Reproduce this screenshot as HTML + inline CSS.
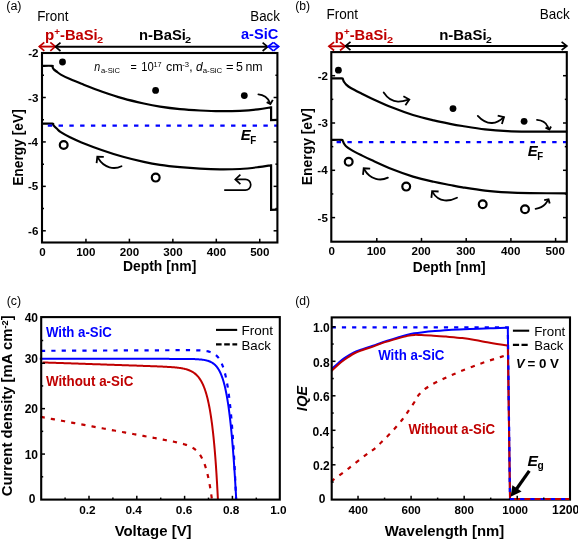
<!DOCTYPE html>
<html><head><meta charset="utf-8"><style>
html,body{margin:0;padding:0;background:#fff;width:578px;height:539px;overflow:hidden}
svg{display:block;filter:blur(0.35px)}
text{font-family:"Liberation Sans",sans-serif}
</style></head><body>
<svg width="578" height="539" viewBox="0 0 578 539" font-family='"Liberation Sans", sans-serif'>
<rect width="578" height="539" fill="#fff"/>
<path d="M42 65.8 C43.65 65.8 50.15 65.7 51.9 65.8 C53.65 65.9 52.33 66.03 52.5 66.4 C52.67 66.77 52.68 67.5 52.9 68 C53.12 68.5 53.2 68.82 53.8 69.4 C54.4 69.98 55.33 70.63 56.5 71.5 C57.67 72.37 58.55 73.33 60.8 74.6 C63.05 75.87 66.55 77.57 70 79.1 C73.45 80.63 76.12 81.7 81.5 83.8 C86.88 85.9 95.38 89.27 102.3 91.7 C109.22 94.13 116.08 96.43 123 98.4 C129.92 100.37 137.63 102.13 143.8 103.5 C149.97 104.87 153.97 105.67 160 106.6 C166.03 107.53 173.33 108.45 180 109.1 C186.67 109.75 193.33 110.15 200 110.5 C206.67 110.85 213.33 111.15 220 111.2 C226.67 111.25 233.67 111.12 240 110.8 C246.33 110.48 252.9 109.87 258 109.3 C263.1 108.73 268.5 107.72 270.6 107.4 L271.1 107.4 L271.1 120.2 L277.4 119.9" stroke="#000" stroke-width="2.2" fill="none" stroke-linecap="butt" stroke-linejoin="miter"/>
<path d="M42 123.6 C43.72 123.6 50.47 123.45 52.3 123.6 C54.13 123.75 52.67 124.07 53 124.5 C53.33 124.93 53.63 125.48 54.3 126.2 C54.97 126.92 55.92 127.8 57 128.8 C58.08 129.8 58.63 130.78 60.8 132.2 C62.97 133.62 66.55 135.6 70 137.3 C73.45 139 76.12 140.25 81.5 142.4 C86.88 144.55 95.38 147.8 102.3 150.2 C109.22 152.6 116.08 154.85 123 156.8 C129.92 158.75 137.63 160.55 143.8 161.9 C149.97 163.25 153.97 164.02 160 164.9 C166.03 165.78 173.33 166.57 180 167.2 C186.67 167.83 193.33 168.33 200 168.7 C206.67 169.07 213.33 169.35 220 169.4 C226.67 169.45 233.67 169.37 240 169 C246.33 168.63 252.9 167.82 258 167.2 C263.1 166.58 268.5 165.62 270.6 165.3 L271.1 165.3 L271.1 209.8 L277.4 209.6" stroke="#000" stroke-width="2.2" fill="none" stroke-linecap="butt" stroke-linejoin="miter"/>
<line x1="47.8" y1="125.6" x2="277.3" y2="125.6" stroke="#0000ff" stroke-width="2.3" stroke-linecap="butt" stroke-dasharray="4.4 6.38"/>
<rect x="42" y="53" width="235.4" height="189.5" fill="none" stroke="#000" stroke-width="2.1"/>
<line x1="42" y1="53.07" x2="45.8" y2="53.07" stroke="#000" stroke-width="1.5" stroke-linecap="butt"/>
<line x1="277.4" y1="53.07" x2="273.6" y2="53.07" stroke="#000" stroke-width="1.5" stroke-linecap="butt"/>
<line x1="42" y1="97.5" x2="45.8" y2="97.5" stroke="#000" stroke-width="1.5" stroke-linecap="butt"/>
<line x1="277.4" y1="97.5" x2="273.6" y2="97.5" stroke="#000" stroke-width="1.5" stroke-linecap="butt"/>
<line x1="42" y1="141.93" x2="45.8" y2="141.93" stroke="#000" stroke-width="1.5" stroke-linecap="butt"/>
<line x1="277.4" y1="141.93" x2="273.6" y2="141.93" stroke="#000" stroke-width="1.5" stroke-linecap="butt"/>
<line x1="42" y1="186.36" x2="45.8" y2="186.36" stroke="#000" stroke-width="1.5" stroke-linecap="butt"/>
<line x1="277.4" y1="186.36" x2="273.6" y2="186.36" stroke="#000" stroke-width="1.5" stroke-linecap="butt"/>
<line x1="42" y1="230.79" x2="45.8" y2="230.79" stroke="#000" stroke-width="1.5" stroke-linecap="butt"/>
<line x1="277.4" y1="230.79" x2="273.6" y2="230.79" stroke="#000" stroke-width="1.5" stroke-linecap="butt"/>
<line x1="42" y1="75.28" x2="44" y2="75.28" stroke="#000" stroke-width="1.5" stroke-linecap="butt"/>
<line x1="277.4" y1="75.28" x2="275.4" y2="75.28" stroke="#000" stroke-width="1.5" stroke-linecap="butt"/>
<line x1="42" y1="119.72" x2="44" y2="119.72" stroke="#000" stroke-width="1.5" stroke-linecap="butt"/>
<line x1="277.4" y1="119.72" x2="275.4" y2="119.72" stroke="#000" stroke-width="1.5" stroke-linecap="butt"/>
<line x1="42" y1="164.15" x2="44" y2="164.15" stroke="#000" stroke-width="1.5" stroke-linecap="butt"/>
<line x1="277.4" y1="164.15" x2="275.4" y2="164.15" stroke="#000" stroke-width="1.5" stroke-linecap="butt"/>
<line x1="42" y1="208.57" x2="44" y2="208.57" stroke="#000" stroke-width="1.5" stroke-linecap="butt"/>
<line x1="277.4" y1="208.57" x2="275.4" y2="208.57" stroke="#000" stroke-width="1.5" stroke-linecap="butt"/>
<line x1="85.95" y1="242.5" x2="85.95" y2="238.7" stroke="#000" stroke-width="1.5" stroke-linecap="butt"/>
<line x1="129.4" y1="242.5" x2="129.4" y2="238.7" stroke="#000" stroke-width="1.5" stroke-linecap="butt"/>
<line x1="172.85" y1="242.5" x2="172.85" y2="238.7" stroke="#000" stroke-width="1.5" stroke-linecap="butt"/>
<line x1="216.3" y1="242.5" x2="216.3" y2="238.7" stroke="#000" stroke-width="1.5" stroke-linecap="butt"/>
<line x1="259.75" y1="242.5" x2="259.75" y2="238.7" stroke="#000" stroke-width="1.5" stroke-linecap="butt"/>
<text x="28.14" y="57.07" font-size="11.6" font-weight="bold" font-style="normal" fill="#000">-2</text>
<text x="28.08" y="101.5" font-size="11.6" font-weight="bold" font-style="normal" fill="#000">-3</text>
<text x="27.73" y="145.93" font-size="11.6" font-weight="bold" font-style="normal" fill="#000">-4</text>
<text x="27.97" y="190.36" font-size="11.6" font-weight="bold" font-style="normal" fill="#000">-5</text>
<text x="28.08" y="234.79" font-size="11.6" font-weight="bold" font-style="normal" fill="#000">-6</text>
<text x="39.28" y="256.1" font-size="11.6" font-weight="bold" font-style="normal" fill="#000">0</text>
<text x="76.18" y="256.1" font-size="11.6" font-weight="bold" font-style="normal" fill="#000">100</text>
<text x="119.77" y="256.1" font-size="11.6" font-weight="bold" font-style="normal" fill="#000">200</text>
<text x="163.28" y="256.1" font-size="11.6" font-weight="bold" font-style="normal" fill="#000">300</text>
<text x="206.79" y="256.1" font-size="11.6" font-weight="bold" font-style="normal" fill="#000">400</text>
<text x="250.15" y="256.1" font-size="11.6" font-weight="bold" font-style="normal" fill="#000">500</text>
<text x="122.99" y="271.2" font-size="13.9" font-weight="bold" font-style="normal" fill="#000">Depth [nm]</text>
<text transform="rotate(-90 0 0)" x="-185.85" y="23.2" font-size="13.8" font-weight="bold" font-style="normal" fill="#000">Energy [eV]</text>
<text x="6.25" y="10.2" font-size="12.5" font-weight="normal" font-style="normal" fill="#000">(a)</text>
<text transform="translate(37.13 20.9) scale(0.938 1)" font-size="14.3" font-weight="normal" font-style="normal" fill="#000">Front</text>
<text transform="translate(250.33 20.9) scale(0.932 1)" font-size="14.3" font-weight="normal" font-style="normal" fill="#000">Back</text>
<text transform="translate(44.92 40) scale(1.031 1)" font-size="14.6" font-weight="bold" font-style="normal" fill="#c00000">p</text>
<text transform="translate(54.3 35.3) scale(1.100 1)" font-size="9" font-weight="bold" font-style="normal" fill="#c00000">+</text>
<text transform="translate(60.01 40) scale(1.009 1)" font-size="14.6" font-weight="bold" font-style="normal" fill="#c00000">-BaSi</text>
<text transform="translate(97.11 43) scale(1.162 1)" font-size="9.5" font-weight="bold" font-style="normal" fill="#c00000">2</text>
<text transform="translate(139.04 39.6) scale(1.013 1)" font-size="14.6" font-weight="bold" font-style="normal" fill="#000">n-BaSi</text>
<text transform="translate(185.11 42.5) scale(1.162 1)" font-size="9.5" font-weight="bold" font-style="normal" fill="#000">2</text>
<text x="240.96" y="38.6" font-size="14.6" font-weight="bold" font-style="normal" fill="#0000ff">a-SiC</text>
<line x1="39.3" y1="46.6" x2="55.3" y2="46.6" stroke="#c00000" stroke-width="1.9" stroke-linecap="butt"/>
<path d="M44.3 42.4 L39.3 46.6 L44.3 50.8" stroke="#c00000" stroke-width="1.7" fill="none" stroke-linecap="butt" stroke-linejoin="miter"/>
<path d="M50.3 42.4 L55.3 46.6 L50.3 50.8" stroke="#c00000" stroke-width="1.7" fill="none" stroke-linecap="butt" stroke-linejoin="miter"/>
<line x1="55.5" y1="46.8" x2="267.4" y2="46.8" stroke="#000" stroke-width="2" stroke-linecap="butt"/>
<path d="M60.5 42.6 L55.5 46.8 L60.5 51" stroke="#000" stroke-width="1.7" fill="none" stroke-linecap="butt" stroke-linejoin="miter"/>
<path d="M262.6 42.6 L267.6 46.8 L262.6 51" stroke="#000" stroke-width="1.7" fill="none" stroke-linecap="butt" stroke-linejoin="miter"/>
<line x1="268.2" y1="46.6" x2="278.7" y2="46.6" stroke="#0000ff" stroke-width="1.9" stroke-linecap="butt"/>
<path d="M273.4 42.4 L268.2 46.6 L273.4 50.8" stroke="#0000ff" stroke-width="1.7" fill="none" stroke-linecap="butt" stroke-linejoin="miter"/>
<path d="M273.5 42.4 L278.7 46.6 L273.5 50.8" stroke="#0000ff" stroke-width="1.7" fill="none" stroke-linecap="butt" stroke-linejoin="miter"/>
<text transform="translate(94.24 70.6) scale(0.892 1)" font-size="12" font-weight="normal" font-style="italic" fill="#000">n</text>
<text x="100.9" y="73.1" font-size="7.6" font-weight="normal" font-style="normal" fill="#000">a-SiC</text>
<text transform="translate(130.46 70.6) scale(0.893 1)" font-size="12" font-weight="normal" font-style="normal" fill="#000">=</text>
<text transform="translate(141.26 70.6) scale(0.933 1)" font-size="12" font-weight="normal" font-style="normal" fill="#000">10</text>
<text transform="translate(153.44 66.6) scale(1.029 1)" font-size="7.2" font-weight="normal" font-style="normal" fill="#000">17</text>
<text transform="translate(166 70.6) scale(1.050 1)" font-size="12" font-weight="normal" font-style="normal" fill="#000">cm</text>
<text transform="translate(182.25 66.6) scale(1.070 1)" font-size="7.2" font-weight="normal" font-style="normal" fill="#000">-3</text>
<text x="189.22" y="70.6" font-size="12" font-weight="normal" font-style="normal" fill="#000">,</text>
<text x="195.98" y="70.6" font-size="12" font-weight="normal" font-style="italic" fill="#000">d</text>
<text transform="translate(202.69 73.2) scale(1.031 1)" font-size="7.6" font-weight="normal" font-style="normal" fill="#000">a-SiC</text>
<text transform="translate(226.05 70.6) scale(1.082 1)" font-size="12" font-weight="normal" font-style="normal" fill="#000">=</text>
<text transform="translate(235.9 70.6) scale(1.035 1)" font-size="12" font-weight="normal" font-style="normal" fill="#000">5</text>
<text transform="translate(245.4 70.6) scale(1.032 1)" font-size="12" font-weight="normal" font-style="normal" fill="#000">nm</text>
<text transform="translate(240.8 140.1) scale(0.963 1)" font-size="15.5" font-weight="bold" font-style="italic" fill="#000">E</text>
<text transform="translate(250.26 143.5) scale(0.934 1)" font-size="10.5" font-weight="bold" font-style="normal" fill="#000">F</text>
<circle cx="62.5" cy="62" r="3.4" fill="#000"/>
<circle cx="155.6" cy="90.4" r="3.4" fill="#000"/>
<circle cx="244.3" cy="95.6" r="3.4" fill="#000"/>
<circle cx="63.7" cy="145" r="3.9" fill="none" stroke="#000" stroke-width="2.2"/>
<circle cx="155.7" cy="177.6" r="3.9" fill="none" stroke="#000" stroke-width="2.2"/>
<path d="M121.5 166.2 C114.5 169.7 104.3 168.6 97.9 157.8" stroke="#000" stroke-width="1.8" fill="none" stroke-linecap="round" stroke-linejoin="miter"/>
<path d="M103.8 156.9 L97.3 156.6 L96.6 163.2" stroke="#000" stroke-width="1.8" fill="none" stroke-linecap="butt" stroke-linejoin="miter"/>
<path d="M258.4 94.3 C263 94.5 268.5 97.5 270.2 103.4" stroke="#000" stroke-width="1.8" fill="none" stroke-linecap="round" stroke-linejoin="miter"/>
<path d="M266.7 102.2 L270.4 104.1 L272.8 99.9" stroke="#000" stroke-width="1.9" fill="none" stroke-linecap="butt" stroke-linejoin="miter"/>
<path d="M224.2 190.1 L245.4 190.1 A5.35 5.35 0 0 0 245.4 179.4 L235.6 179.4" stroke="#000" stroke-width="1.7" fill="none" stroke-linecap="butt" stroke-linejoin="miter"/>
<path d="M240.4 174.6 L235.3 179.4 L240.4 184.2" stroke="#000" stroke-width="1.7" fill="none" stroke-linecap="butt" stroke-linejoin="miter"/>
<path d="M331.6 78.4 C333.27 78.4 339.73 78.27 341.6 78.4 C343.47 78.53 342.4 78.63 342.8 79.2 C343.2 79.77 343.43 80.9 344 81.8 C344.57 82.7 345.07 83.57 346.2 84.6 C347.33 85.63 348.33 86.55 350.8 88 C353.27 89.45 357.55 91.57 361 93.3 C364.45 95.03 366.28 96.02 371.5 98.4 C376.72 100.78 385.38 104.83 392.3 107.6 C399.22 110.37 406.08 112.87 413 115 C419.92 117.13 427.63 118.93 433.8 120.4 C439.97 121.87 445.22 122.87 450 123.8 C454.78 124.73 456.67 125.08 462.5 126 C468.33 126.92 477.5 128.45 485 129.3 C492.5 130.15 500 130.72 507.5 131.1 C515 131.48 520.07 131.5 530 131.6 C539.93 131.7 560.92 131.68 567.1 131.7" stroke="#000" stroke-width="2.2" fill="none" stroke-linecap="butt" stroke-linejoin="miter"/>
<path d="M331.6 139.8 C333.23 139.8 339.57 139.67 341.4 139.8 C343.23 139.93 342.2 140.03 342.6 140.6 C343 141.17 343.23 142.27 343.8 143.2 C344.37 144.13 344.83 145.13 346 146.2 C347.17 147.27 348.3 148.13 350.8 149.6 C353.3 151.07 357.55 153.25 361 155 C364.45 156.75 366.28 157.72 371.5 160.1 C376.72 162.48 385.38 166.55 392.3 169.3 C399.22 172.05 406.08 174.52 413 176.6 C419.92 178.68 427.63 180.4 433.8 181.8 C439.97 183.2 445.22 184.08 450 185 C454.78 185.92 456.67 186.37 462.5 187.3 C468.33 188.23 477.5 189.75 485 190.6 C492.5 191.45 500 191.98 507.5 192.4 C515 192.82 520.07 192.95 530 193.1 C539.93 193.25 560.92 193.27 567.1 193.3" stroke="#000" stroke-width="2.2" fill="none" stroke-linecap="butt" stroke-linejoin="miter"/>
<line x1="336.6" y1="142.2" x2="566.8" y2="142.2" stroke="#0000ff" stroke-width="2.3" stroke-linecap="butt" stroke-dasharray="4.4 6.38"/>
<rect x="331.3" y="52.1" width="235.5" height="189.6" fill="none" stroke="#000" stroke-width="2.1"/>
<line x1="331.3" y1="75.7" x2="335.1" y2="75.7" stroke="#000" stroke-width="1.5" stroke-linecap="butt"/>
<line x1="566.8" y1="75.7" x2="563" y2="75.7" stroke="#000" stroke-width="1.5" stroke-linecap="butt"/>
<line x1="331.3" y1="123" x2="335.1" y2="123" stroke="#000" stroke-width="1.5" stroke-linecap="butt"/>
<line x1="566.8" y1="123" x2="563" y2="123" stroke="#000" stroke-width="1.5" stroke-linecap="butt"/>
<line x1="331.3" y1="170.3" x2="335.1" y2="170.3" stroke="#000" stroke-width="1.5" stroke-linecap="butt"/>
<line x1="566.8" y1="170.3" x2="563" y2="170.3" stroke="#000" stroke-width="1.5" stroke-linecap="butt"/>
<line x1="331.3" y1="217.6" x2="335.1" y2="217.6" stroke="#000" stroke-width="1.5" stroke-linecap="butt"/>
<line x1="566.8" y1="217.6" x2="563" y2="217.6" stroke="#000" stroke-width="1.5" stroke-linecap="butt"/>
<line x1="331.3" y1="99.35" x2="333.3" y2="99.35" stroke="#000" stroke-width="1.5" stroke-linecap="butt"/>
<line x1="566.8" y1="99.35" x2="564.8" y2="99.35" stroke="#000" stroke-width="1.5" stroke-linecap="butt"/>
<line x1="331.3" y1="146.65" x2="333.3" y2="146.65" stroke="#000" stroke-width="1.5" stroke-linecap="butt"/>
<line x1="566.8" y1="146.65" x2="564.8" y2="146.65" stroke="#000" stroke-width="1.5" stroke-linecap="butt"/>
<line x1="331.3" y1="193.95" x2="333.3" y2="193.95" stroke="#000" stroke-width="1.5" stroke-linecap="butt"/>
<line x1="566.8" y1="193.95" x2="564.8" y2="193.95" stroke="#000" stroke-width="1.5" stroke-linecap="butt"/>
<line x1="376.8" y1="241.7" x2="376.8" y2="237.9" stroke="#000" stroke-width="1.5" stroke-linecap="butt"/>
<line x1="421.5" y1="241.7" x2="421.5" y2="237.9" stroke="#000" stroke-width="1.5" stroke-linecap="butt"/>
<line x1="466.2" y1="241.7" x2="466.2" y2="237.9" stroke="#000" stroke-width="1.5" stroke-linecap="butt"/>
<line x1="510.9" y1="241.7" x2="510.9" y2="237.9" stroke="#000" stroke-width="1.5" stroke-linecap="butt"/>
<line x1="555.6" y1="241.7" x2="555.6" y2="237.9" stroke="#000" stroke-width="1.5" stroke-linecap="butt"/>
<text x="317.74" y="79.7" font-size="11.6" font-weight="bold" font-style="normal" fill="#000">-2</text>
<text x="317.68" y="127" font-size="11.6" font-weight="bold" font-style="normal" fill="#000">-3</text>
<text x="317.33" y="174.3" font-size="11.6" font-weight="bold" font-style="normal" fill="#000">-4</text>
<text x="317.57" y="221.6" font-size="11.6" font-weight="bold" font-style="normal" fill="#000">-5</text>
<text x="328.48" y="254.9" font-size="11.6" font-weight="bold" font-style="normal" fill="#000">0</text>
<text x="366.63" y="254.9" font-size="11.6" font-weight="bold" font-style="normal" fill="#000">100</text>
<text x="411.47" y="254.9" font-size="11.6" font-weight="bold" font-style="normal" fill="#000">200</text>
<text x="456.23" y="254.9" font-size="11.6" font-weight="bold" font-style="normal" fill="#000">300</text>
<text x="500.99" y="254.9" font-size="11.6" font-weight="bold" font-style="normal" fill="#000">400</text>
<text x="545.6" y="254.9" font-size="11.6" font-weight="bold" font-style="normal" fill="#000">500</text>
<text transform="translate(412.7 272.4) scale(0.994 1)" font-size="13.9" font-weight="bold" font-style="normal" fill="#000">Depth [nm]</text>
<text transform="rotate(-90 0 0) translate(-185.15 312.3) scale(1.007 1)" font-size="13.8" font-weight="bold" font-style="normal" fill="#000">Energy [eV]</text>
<text transform="translate(295.27 10.2) scale(0.975 1)" font-size="12.5" font-weight="normal" font-style="normal" fill="#000">(b)</text>
<text transform="translate(326.42 18.9) scale(0.947 1)" font-size="14.3" font-weight="normal" font-style="normal" fill="#000">Front</text>
<text transform="translate(539.72 18.9) scale(0.942 1)" font-size="14.3" font-weight="normal" font-style="normal" fill="#000">Back</text>
<text x="334.75" y="39.7" font-size="14.6" font-weight="bold" font-style="normal" fill="#c00000">p</text>
<text transform="translate(343.91 34.8) scale(1.078 1)" font-size="9" font-weight="bold" font-style="normal" fill="#c00000">+</text>
<text transform="translate(349.71 39.7) scale(1.009 1)" font-size="14.6" font-weight="bold" font-style="normal" fill="#c00000">-BaSi</text>
<text transform="translate(387.01 42.8) scale(1.162 1)" font-size="9.5" font-weight="bold" font-style="normal" fill="#c00000">2</text>
<text transform="translate(439.13 40.4) scale(1.027 1)" font-size="14.6" font-weight="bold" font-style="normal" fill="#000">n-BaSi</text>
<text transform="translate(486.04 43.4) scale(1.096 1)" font-size="9.5" font-weight="bold" font-style="normal" fill="#000">2</text>
<line x1="328.9" y1="46.3" x2="345.2" y2="46.3" stroke="#c00000" stroke-width="1.9" stroke-linecap="butt"/>
<path d="M334.1 42.1 L328.9 46.3 L334.1 50.5" stroke="#c00000" stroke-width="1.7" fill="none" stroke-linecap="butt" stroke-linejoin="miter"/>
<path d="M340 42.1 L345.2 46.3 L340 50.5" stroke="#c00000" stroke-width="1.7" fill="none" stroke-linecap="butt" stroke-linejoin="miter"/>
<line x1="345.5" y1="46" x2="566.6" y2="46" stroke="#000" stroke-width="2" stroke-linecap="butt"/>
<path d="M350.5 41.8 L345.5 46 L350.5 50.2" stroke="#000" stroke-width="1.7" fill="none" stroke-linecap="butt" stroke-linejoin="miter"/>
<path d="M561.6 41.8 L566.9 46 L561.6 50.2" stroke="#000" stroke-width="1.7" fill="none" stroke-linecap="butt" stroke-linejoin="miter"/>
<text transform="translate(527.7 156.1) scale(0.963 1)" font-size="15.5" font-weight="bold" font-style="italic" fill="#000">E</text>
<text transform="translate(537.28 159.5) scale(0.915 1)" font-size="10.5" font-weight="bold" font-style="normal" fill="#000">F</text>
<circle cx="338.4" cy="70.2" r="3.4" fill="#000"/>
<circle cx="453" cy="108.6" r="3.4" fill="#000"/>
<circle cx="524.1" cy="121.3" r="3.4" fill="#000"/>
<circle cx="348.7" cy="161.8" r="3.9" fill="none" stroke="#000" stroke-width="2.2"/>
<circle cx="406.2" cy="186.6" r="3.9" fill="none" stroke="#000" stroke-width="2.2"/>
<circle cx="482.7" cy="204.2" r="3.9" fill="none" stroke="#000" stroke-width="2.2"/>
<circle cx="525" cy="209.3" r="3.9" fill="none" stroke="#000" stroke-width="2.2"/>
<path d="M387.9 177.6 C380.9 181.1 370.7 180.3 364.3 169.5" stroke="#000" stroke-width="1.8" fill="none" stroke-linecap="round" stroke-linejoin="miter"/>
<path d="M370.2 168.6 L363.7 168.3 L363 174.9" stroke="#000" stroke-width="1.8" fill="none" stroke-linecap="butt" stroke-linejoin="miter"/>
<path d="M457 197.7 C450 201.2 439.1 203.2 432.7 192.4" stroke="#000" stroke-width="1.8" fill="none" stroke-linecap="round" stroke-linejoin="miter"/>
<path d="M438.6 191.5 L432.1 191.2 L431.4 197.8" stroke="#000" stroke-width="1.8" fill="none" stroke-linecap="butt" stroke-linejoin="miter"/>
<path d="M383.7 92.5 C387 97.5 392 101.5 398 101.6 C402 101.7 405.5 100.6 408.6 99.6" stroke="#000" stroke-width="1.8" fill="none" stroke-linecap="round" stroke-linejoin="miter"/>
<path d="M403.4 96.2 L409.3 99.5 L405.4 105.2" stroke="#000" stroke-width="1.8" fill="none" stroke-linecap="butt" stroke-linejoin="miter"/>
<path d="M477.8 115.9 C482 120.5 487 123.2 492 123.0 C496.5 122.8 500.5 120.5 503.5 117.4" stroke="#000" stroke-width="1.8" fill="none" stroke-linecap="round" stroke-linejoin="miter"/>
<path d="M497.7 115.6 L504 117.1 L501.9 124.1" stroke="#000" stroke-width="1.8" fill="none" stroke-linecap="butt" stroke-linejoin="miter"/>
<path d="M537.0 119.9 C541 120.2 545.5 122.0 547.3 126.0 L548.9 129.0" stroke="#000" stroke-width="1.8" fill="none" stroke-linecap="round" stroke-linejoin="miter"/>
<path d="M545.5 127.7 L549.4 129.6 L551 126.5" stroke="#000" stroke-width="1.9" fill="none" stroke-linecap="butt" stroke-linejoin="miter"/>
<path d="M535.6 208.8 C539.5 208.3 543 206.8 545.2 204.2 L548.2 199.9" stroke="#000" stroke-width="1.8" fill="none" stroke-linecap="round" stroke-linejoin="miter"/>
<path d="M544.2 200.1 L548.5 199.3 L549.7 203.6" stroke="#000" stroke-width="1.9" fill="none" stroke-linecap="butt" stroke-linejoin="miter"/>
<path d="M40.63 416.84 L42.18 417.13 L43.73 417.41 L45.26 417.7 L46.79 417.98 L48.32 418.27 L49.83 418.55 L51.34 418.83 L52.84 419.11 L54.33 419.38 L55.82 419.66 L57.3 419.93 L58.77 420.21 L60.24 420.48 L61.7 420.75 L63.15 421.02 L64.59 421.29 L66.03 421.56 L67.46 421.82 L68.89 422.09 L70.3 422.35 L71.71 422.61 L73.11 422.87 L74.51 423.13 L75.9 423.39 L77.28 423.65 L78.65 423.9 L80.02 424.16 L81.38 424.41 L82.73 424.66 L84.08 424.91 L85.42 425.16 L86.75 425.41 L88.07 425.65 L89.39 425.9 L90.7 426.14 L92 426.38 L93.3 426.62 L94.59 426.86 L95.87 427.1 L97.15 427.34 L98.41 427.57 L99.67 427.81 L100.93 428.04 L102.17 428.27 L103.41 428.5 L104.65 428.73 L105.87 428.96 L107.09 429.19 L108.3 429.41 L109.51 429.64 L110.7 429.86 L111.89 430.08 L113.08 430.3 L114.25 430.52 L115.42 430.74 L116.59 430.95 L117.74 431.17 L118.89 431.38 L120.03 431.59 L121.16 431.8 L122.29 432.01 L123.41 432.22 L124.52 432.43 L125.63 432.63 L126.73 432.84 L127.82 433.04 L128.9 433.24 L129.98 433.44 L131.05 433.64 L132.11 433.84 L133.17 434.03 L134.22 434.23 L135.26 434.42 L136.29 434.61 L137.32 434.81 L138.34 435 L139.36 435.18 L140.36 435.37 L141.36 435.56 L142.35 435.74 L143.34 435.92 L144.32 436.11 L145.29 436.29 L146.25 436.47 L147.21 436.64 L148.16 436.82 L149.1 437 L150.04 437.17 L150.97 437.35 L151.89 437.52 L152.81 437.69 L153.71 437.86 L154.61 438.03 L155.51 438.19 L156.39 438.36 L157.27 438.52 L158.15 438.69 L159.01 438.85 L159.87 439.01 L160.72 439.17 L161.56 439.33 L162.4 439.49 L163.23 439.65 L164.06 439.8 L164.87 439.96 L165.68 440.12 L166.48 440.27 L167.28 440.42 L168.06 440.58 L168.84 440.73 L169.62 440.88 L170.38 441.03 L171.14 441.19 L171.9 441.34 L172.64 441.49 L173.38 441.64 L174.11 441.79 L174.84 441.95 L175.55 442.1 L176.26 442.25 L176.97 442.41 L177.66 442.57 L178.35 442.72 L179.03 442.88 L179.71 443.04 L180.38 443.21 L181.04 443.37 L181.69 443.54 L182.34 443.72 L182.98 443.89 L183.61 444.07 L184.23 444.26 L184.85 444.44 L185.46 444.64 L186.07 444.84 L186.67 445.04 L187.26 445.26 L187.84 445.47 L188.42 445.7 L188.99 445.94 L189.55 446.18 L190.1 446.43 L190.65 446.7 L191.2 446.97 L191.73 447.25 L192.26 447.55 L192.78 447.86 L193.29 448.18 L193.8 448.52 L194.3 448.87 L194.79 449.24 L195.28 449.62 L195.76 450.02 L196.23 450.44 L196.69 450.87 L197.15 451.32 L197.6 451.8 L198.05 452.29 L198.48 452.8 L198.91 453.34 L199.34 453.89 L199.75 454.47 L200.16 455.07 L200.57 455.69 L200.96 456.34 L201.35 457.01 L201.73 457.7 L202.11 458.41 L202.48 459.15 L202.84 459.92 L203.19 460.7 L203.54 461.51 L203.88 462.35 L204.22 463.2 L204.54 464.08 L204.86 464.97 L205.18 465.89 L205.48 466.83 L205.78 467.78 L206.08 468.75 L206.36 469.74 L206.64 470.75 L206.91 471.76 L207.18 472.79 L207.43 473.83 L207.68 474.88 L207.93 475.93 L208.16 476.99 L208.39 478.05 L208.62 479.11 L208.83 480.17 L209.04 481.23 L209.24 482.28 L209.43 483.32 L209.62 484.34 L209.8 485.36 L209.97 486.36 L210.14 487.34 L210.3 488.3 L210.45 489.23 L210.59 490.14 L210.73 491.02 L210.86 491.86 L210.98 492.68 L211.09 493.45 L211.2 494.19 L211.3 494.89 L211.39 495.55 L211.48 496.16 L211.56 496.72 L211.63 497.24 L211.69 497.71 L211.75 498.12 L211.8 498.48 L211.84 498.79 L211.87 499.05 L211.9 499.24 L211.91 499.39 L211.93 499.47 L211.93 499.5" stroke="#c00000" stroke-width="2.2" fill="none" stroke-linecap="butt" stroke-linejoin="miter" stroke-dasharray="4.2 6.15"/>
<path d="M42.67 362.41 L44.27 362.46 L45.87 362.52 L47.46 362.57 L49.04 362.63 L50.61 362.68 L52.18 362.73 L53.73 362.79 L55.29 362.84 L56.83 362.89 L58.37 362.95 L59.89 363 L61.42 363.05 L62.93 363.1 L64.44 363.16 L65.94 363.21 L67.43 363.26 L68.92 363.31 L70.39 363.36 L71.87 363.41 L73.33 363.46 L74.78 363.51 L76.23 363.56 L77.68 363.61 L79.11 363.66 L80.54 363.71 L81.96 363.76 L83.37 363.81 L84.77 363.85 L86.17 363.9 L87.56 363.95 L88.95 364 L90.32 364.04 L91.69 364.09 L93.05 364.14 L94.4 364.18 L95.75 364.23 L97.09 364.28 L98.42 364.32 L99.75 364.37 L101.07 364.41 L102.38 364.46 L103.68 364.5 L104.97 364.55 L106.26 364.59 L107.54 364.64 L108.82 364.68 L110.08 364.72 L111.34 364.77 L112.59 364.81 L113.84 364.85 L115.08 364.89 L116.31 364.94 L117.53 364.98 L118.74 365.02 L119.95 365.06 L121.15 365.1 L122.35 365.14 L123.53 365.19 L124.71 365.23 L125.88 365.27 L127.05 365.31 L128.2 365.35 L129.35 365.39 L130.5 365.43 L131.63 365.46 L132.76 365.5 L133.88 365.54 L134.99 365.58 L136.1 365.62 L137.2 365.66 L138.29 365.7 L139.37 365.73 L140.45 365.77 L141.52 365.81 L142.58 365.85 L143.63 365.88 L144.68 365.92 L145.72 365.96 L146.75 365.99 L147.78 366.03 L148.8 366.07 L149.81 366.11 L150.81 366.14 L151.81 366.18 L152.8 366.22 L153.78 366.25 L154.75 366.29 L155.72 366.33 L156.68 366.37 L157.63 366.41 L158.58 366.45 L159.52 366.48 L160.45 366.52 L161.37 366.57 L162.29 366.61 L163.19 366.65 L164.1 366.69 L164.99 366.74 L165.88 366.78 L166.76 366.83 L167.63 366.88 L168.49 366.93 L169.35 366.98 L170.2 367.04 L171.04 367.1 L171.88 367.16 L172.71 367.22 L173.53 367.29 L174.34 367.36 L175.15 367.43 L175.94 367.51 L176.74 367.59 L177.52 367.68 L178.3 367.77 L179.07 367.87 L179.83 367.98 L180.58 368.09 L181.33 368.21 L182.07 368.34 L182.8 368.48 L183.53 368.62 L184.24 368.78 L184.95 368.95 L185.66 369.13 L186.35 369.32 L187.04 369.53 L187.72 369.75 L188.39 369.98 L189.06 370.23 L189.72 370.5 L190.37 370.79 L191.01 371.09 L191.65 371.42 L192.27 371.76 L192.89 372.13 L193.51 372.53 L194.11 372.95 L194.71 373.39 L195.3 373.87 L195.88 374.37 L196.46 374.9 L197.02 375.47 L197.58 376.07 L198.13 376.7 L198.68 377.37 L199.22 378.08 L199.74 378.82 L200.27 379.61 L200.78 380.44 L201.28 381.31 L201.78 382.22 L202.27 383.18 L202.75 384.19 L203.23 385.24 L203.69 386.35 L204.15 387.5 L204.6 388.7 L205.05 389.96 L205.48 391.27 L205.91 392.63 L206.33 394.04 L206.74 395.51 L207.14 397.03 L207.54 398.6 L207.93 400.23 L208.31 401.92 L208.68 403.65 L209.04 405.44 L209.4 407.28 L209.75 409.18 L210.09 411.12 L210.42 413.11 L210.74 415.15 L211.06 417.23 L211.37 419.36 L211.67 421.53 L211.97 423.74 L212.25 425.99 L212.53 428.27 L212.8 430.58 L213.07 432.92 L213.32 435.28 L213.57 437.67 L213.81 440.07 L214.04 442.48 L214.27 444.91 L214.49 447.34 L214.7 449.77 L214.9 452.2 L215.1 454.61 L215.29 457.02 L215.47 459.4 L215.65 461.77 L215.82 464.1 L215.98 466.4 L216.13 468.66 L216.28 470.88 L216.42 473.05 L216.55 475.17 L216.68 477.23 L216.8 479.22 L216.92 481.15 L217.03 483 L217.13 484.78 L217.22 486.47 L217.31 488.07 L217.39 489.58 L217.47 491 L217.54 492.32 L217.6 493.54 L217.66 494.65 L217.71 495.65 L217.76 496.54 L217.8 497.32 L217.83 497.98 L217.86 498.53 L217.88 498.95 L217.89 499.26 L217.9 499.44 L217.9 499.5" stroke="#c00000" stroke-width="2" fill="none" stroke-linecap="butt" stroke-linejoin="miter"/>
<path d="M39.83 358.82 L41.6 358.82 L43.36 358.82 L45.11 358.82 L46.86 358.82 L48.59 358.82 L50.32 358.82 L52.04 358.82 L53.76 358.82 L55.46 358.83 L57.16 358.83 L58.84 358.83 L60.53 358.83 L62.2 358.83 L63.86 358.83 L65.52 358.83 L67.17 358.83 L68.81 358.83 L70.44 358.83 L72.06 358.83 L73.68 358.83 L75.28 358.83 L76.88 358.83 L78.48 358.83 L80.06 358.84 L81.63 358.84 L83.2 358.84 L84.76 358.84 L86.31 358.84 L87.86 358.84 L89.39 358.84 L90.92 358.84 L92.44 358.84 L93.95 358.84 L95.45 358.84 L96.95 358.84 L98.43 358.84 L99.91 358.84 L101.38 358.84 L102.85 358.84 L104.3 358.84 L105.75 358.85 L107.18 358.85 L108.62 358.85 L110.04 358.85 L111.45 358.85 L112.86 358.85 L114.26 358.85 L115.65 358.85 L117.03 358.85 L118.4 358.85 L119.77 358.85 L121.13 358.85 L122.48 358.85 L123.82 358.85 L125.15 358.85 L126.48 358.85 L127.8 358.85 L129.1 358.85 L130.41 358.86 L131.7 358.86 L132.98 358.86 L134.26 358.86 L135.53 358.86 L136.79 358.86 L138.05 358.86 L139.29 358.86 L140.53 358.86 L141.76 358.86 L142.98 358.86 L144.19 358.86 L145.4 358.86 L146.59 358.86 L147.78 358.86 L148.96 358.86 L150.13 358.86 L151.3 358.86 L152.45 358.86 L153.6 358.86 L154.74 358.87 L155.88 358.87 L157 358.87 L158.12 358.87 L159.22 358.87 L160.32 358.87 L161.42 358.87 L162.5 358.87 L163.58 358.87 L164.64 358.87 L165.7 358.87 L166.75 358.87 L167.8 358.87 L168.83 358.87 L169.86 358.88 L170.88 358.88 L171.89 358.88 L172.9 358.88 L173.89 358.88 L174.88 358.88 L175.86 358.89 L176.83 358.89 L177.79 358.89 L178.75 358.89 L179.69 358.9 L180.63 358.9 L181.56 358.91 L182.49 358.91 L183.4 358.92 L184.31 358.92 L185.21 358.93 L186.1 358.94 L186.98 358.95 L187.85 358.96 L188.72 358.97 L189.58 358.99 L190.43 359 L191.27 359.02 L192.11 359.04 L192.93 359.06 L193.75 359.09 L194.56 359.12 L195.36 359.15 L196.16 359.19 L196.94 359.23 L197.72 359.27 L198.49 359.32 L199.25 359.38 L200.01 359.44 L200.75 359.52 L201.49 359.59 L202.22 359.68 L202.94 359.78 L203.66 359.88 L204.36 360 L205.06 360.13 L205.75 360.28 L206.44 360.44 L207.11 360.61 L207.78 360.81 L208.44 361.02 L209.09 361.25 L209.73 361.5 L210.36 361.78 L210.99 362.08 L211.61 362.4 L212.22 362.76 L212.83 363.15 L213.42 363.57 L214.01 364.02 L214.59 364.51 L215.17 365.04 L215.73 365.61 L216.29 366.23 L216.84 366.89 L217.38 367.6 L217.92 368.36 L218.45 369.17 L218.97 370.04 L219.48 370.96 L219.98 371.95 L220.48 373 L220.97 374.12 L221.46 375.3 L221.93 376.55 L222.4 377.87 L222.86 379.26 L223.31 380.73 L223.76 382.28 L224.2 383.9 L224.63 385.6 L225.05 387.38 L225.47 389.24 L225.88 391.18 L226.28 393.2 L226.68 395.29 L227.07 397.47 L227.45 399.73 L227.82 402.06 L228.19 404.47 L228.55 406.95 L228.9 409.5 L229.24 412.12 L229.58 414.81 L229.91 417.55 L230.23 420.35 L230.54 423.2 L230.85 426.1 L231.15 429.03 L231.44 432.01 L231.72 435.01 L232 438.03 L232.26 441.07 L232.52 444.12 L232.77 447.16 L233.02 450.2 L233.25 453.23 L233.48 456.22 L233.7 459.19 L233.91 462.11 L234.11 464.99 L234.3 467.8 L234.48 470.55 L234.66 473.22 L234.82 475.8 L234.98 478.29 L235.13 480.68 L235.27 482.96 L235.4 485.11 L235.52 487.15 L235.63 489.04 L235.73 490.8 L235.82 492.41 L235.91 493.87 L235.98 495.17 L236.04 496.3 L236.1 497.27 L236.14 498.07 L236.18 498.69 L236.2 499.14 L236.22 499.41 L236.22 499.5" stroke="#0000ff" stroke-width="2" fill="none" stroke-linecap="butt" stroke-linejoin="miter"/>
<path d="M40.98 350.8 L42.74 350.79 L44.5 350.78 L46.26 350.78 L48 350.77 L49.74 350.76 L51.46 350.75 L53.18 350.75 L54.89 350.74 L56.6 350.73 L58.29 350.72 L59.98 350.72 L61.66 350.71 L63.33 350.7 L64.99 350.7 L66.65 350.69 L68.3 350.68 L69.94 350.67 L71.57 350.67 L73.19 350.66 L74.8 350.65 L76.41 350.65 L78.01 350.64 L79.6 350.63 L81.18 350.62 L82.76 350.62 L84.32 350.61 L85.88 350.6 L87.43 350.6 L88.98 350.59 L90.51 350.58 L92.04 350.58 L93.55 350.57 L95.06 350.56 L96.57 350.56 L98.06 350.55 L99.55 350.54 L101.02 350.54 L102.49 350.53 L103.96 350.52 L105.41 350.52 L106.86 350.51 L108.29 350.51 L109.72 350.5 L111.15 350.49 L112.56 350.49 L113.96 350.48 L115.36 350.48 L116.75 350.47 L118.13 350.46 L119.51 350.46 L120.87 350.45 L122.23 350.45 L123.58 350.44 L124.92 350.43 L126.25 350.43 L127.58 350.42 L128.89 350.42 L130.2 350.41 L131.5 350.4 L132.79 350.4 L134.08 350.39 L135.36 350.39 L136.62 350.38 L137.88 350.38 L139.14 350.37 L140.38 350.37 L141.62 350.36 L142.85 350.35 L144.07 350.35 L145.28 350.34 L146.48 350.34 L147.68 350.33 L148.87 350.33 L150.05 350.32 L151.22 350.32 L152.38 350.31 L153.54 350.31 L154.69 350.3 L155.83 350.3 L156.96 350.29 L158.08 350.29 L159.2 350.28 L160.3 350.28 L161.4 350.27 L162.49 350.27 L163.58 350.27 L164.65 350.26 L165.72 350.26 L166.78 350.25 L167.83 350.25 L168.87 350.24 L169.91 350.24 L170.94 350.23 L171.95 350.23 L172.97 350.23 L173.97 350.22 L174.96 350.22 L175.95 350.22 L176.93 350.21 L177.9 350.21 L178.86 350.21 L179.82 350.2 L180.76 350.2 L181.7 350.2 L182.63 350.2 L183.55 350.2 L184.47 350.2 L185.37 350.2 L186.27 350.2 L187.16 350.2 L188.04 350.2 L188.92 350.21 L189.78 350.21 L190.64 350.22 L191.49 350.22 L192.33 350.23 L193.17 350.24 L193.99 350.25 L194.81 350.27 L195.62 350.29 L196.42 350.31 L197.21 350.33 L198 350.36 L198.78 350.39 L199.54 350.42 L200.31 350.46 L201.06 350.51 L201.8 350.56 L202.54 350.62 L203.27 350.68 L203.99 350.76 L204.7 350.84 L205.41 350.93 L206.11 351.04 L206.79 351.15 L207.48 351.28 L208.15 351.43 L208.81 351.58 L209.47 351.76 L210.12 351.95 L210.76 352.17 L211.39 352.41 L212.02 352.66 L212.63 352.95 L213.24 353.26 L213.84 353.6 L214.43 353.98 L215.02 354.38 L215.6 354.83 L216.16 355.31 L216.72 355.83 L217.28 356.4 L217.82 357.01 L218.36 357.67 L218.89 358.38 L219.41 359.15 L219.92 359.97 L220.42 360.86 L220.92 361.81 L221.41 362.82 L221.89 363.9 L222.36 365.05 L222.83 366.28 L223.29 367.58 L223.73 368.97 L224.18 370.43 L224.61 371.98 L225.03 373.61 L225.45 375.32 L225.86 377.13 L226.26 379.03 L226.66 381.01 L227.04 383.09 L227.42 385.26 L227.79 387.52 L228.15 389.87 L228.51 392.31 L228.85 394.83 L229.19 397.45 L229.52 400.14 L229.84 402.92 L230.16 405.78 L230.46 408.71 L230.76 411.71 L231.05 414.77 L231.34 417.9 L231.61 421.08 L231.88 424.3 L232.13 427.57 L232.39 430.87 L232.63 434.19 L232.86 437.53 L233.09 440.88 L233.31 444.23 L233.52 447.57 L233.72 450.89 L233.91 454.18 L234.1 457.43 L234.28 460.63 L234.45 463.77 L234.61 466.84 L234.76 469.83 L234.91 472.73 L235.05 475.52 L235.17 478.21 L235.3 480.77 L235.41 483.21 L235.51 485.5 L235.61 487.65 L235.7 489.63 L235.77 491.46 L235.85 493.11 L235.91 494.58 L235.96 495.87 L236.01 496.97 L236.05 497.88 L236.08 498.58 L236.1 499.09 L236.11 499.4 L236.11 499.5" stroke="#0000ff" stroke-width="2.2" fill="none" stroke-linecap="butt" stroke-linejoin="miter" stroke-dasharray="4.2 6.15"/>
<rect x="41.2" y="317.1" width="238.6" height="182.5" fill="none" stroke="#000" stroke-width="2.1"/>
<line x1="41.2" y1="454.07" x2="45" y2="454.07" stroke="#000" stroke-width="1.5" stroke-linecap="butt"/>
<line x1="41.2" y1="408.65" x2="45" y2="408.65" stroke="#000" stroke-width="1.5" stroke-linecap="butt"/>
<line x1="41.2" y1="363.23" x2="45" y2="363.23" stroke="#000" stroke-width="1.5" stroke-linecap="butt"/>
<line x1="41.2" y1="476.79" x2="43.2" y2="476.79" stroke="#000" stroke-width="1.5" stroke-linecap="butt"/>
<line x1="41.2" y1="431.36" x2="43.2" y2="431.36" stroke="#000" stroke-width="1.5" stroke-linecap="butt"/>
<line x1="41.2" y1="385.94" x2="43.2" y2="385.94" stroke="#000" stroke-width="1.5" stroke-linecap="butt"/>
<line x1="41.2" y1="340.51" x2="43.2" y2="340.51" stroke="#000" stroke-width="1.5" stroke-linecap="butt"/>
<line x1="89" y1="499.6" x2="89" y2="495.8" stroke="#000" stroke-width="1.5" stroke-linecap="butt"/>
<line x1="136.8" y1="499.6" x2="136.8" y2="495.8" stroke="#000" stroke-width="1.5" stroke-linecap="butt"/>
<line x1="184.6" y1="499.6" x2="184.6" y2="495.8" stroke="#000" stroke-width="1.5" stroke-linecap="butt"/>
<line x1="232.4" y1="499.6" x2="232.4" y2="495.8" stroke="#000" stroke-width="1.5" stroke-linecap="butt"/>
<line x1="65.1" y1="499.6" x2="65.1" y2="497.6" stroke="#000" stroke-width="1.5" stroke-linecap="butt"/>
<line x1="112.9" y1="499.6" x2="112.9" y2="497.6" stroke="#000" stroke-width="1.5" stroke-linecap="butt"/>
<line x1="160.7" y1="499.6" x2="160.7" y2="497.6" stroke="#000" stroke-width="1.5" stroke-linecap="butt"/>
<line x1="208.5" y1="499.6" x2="208.5" y2="497.6" stroke="#000" stroke-width="1.5" stroke-linecap="butt"/>
<line x1="256.3" y1="499.6" x2="256.3" y2="497.6" stroke="#000" stroke-width="1.5" stroke-linecap="butt"/>
<text x="24.66" y="459.1" font-size="12" font-weight="bold" font-style="normal" fill="#000">10</text>
<text x="24.66" y="413" font-size="12" font-weight="bold" font-style="normal" fill="#000">20</text>
<text x="24.66" y="363.4" font-size="12" font-weight="bold" font-style="normal" fill="#000">30</text>
<text x="24.66" y="321.8" font-size="12" font-weight="bold" font-style="normal" fill="#000">40</text>
<text x="28.87" y="502.6" font-size="12" font-weight="bold" font-style="normal" fill="#000">0</text>
<text x="79.2" y="513.8" font-size="11.8" font-weight="bold" font-style="normal" fill="#000">0.2</text>
<text x="125.49" y="513.8" font-size="11.8" font-weight="bold" font-style="normal" fill="#000">0.4</text>
<text x="175.87" y="513.8" font-size="11.8" font-weight="bold" font-style="normal" fill="#000">0.6</text>
<text x="222.94" y="513.8" font-size="11.8" font-weight="bold" font-style="normal" fill="#000">0.8</text>
<text x="270.18" y="513.8" font-size="11.8" font-weight="bold" font-style="normal" fill="#000">1.0</text>
<text transform="translate(114.63 535.8) scale(1.053 1)" font-size="14.2" font-weight="bold" font-style="normal" fill="#000">Voltage [V]</text>
<text transform="translate(6.76 305) scale(0.988 1)" font-size="12.5" font-weight="normal" font-style="normal" fill="#000">(c)</text>
<text transform="translate(45.9 336.8) scale(0.959 1)" font-size="13.8" font-weight="bold" font-style="normal" fill="#0000ff">With a-SiC</text>
<text transform="translate(45.9 385.6) scale(0.968 1)" font-size="13.8" font-weight="bold" font-style="normal" fill="#c00000">Without a-SiC</text>
<line x1="216" y1="329.9" x2="237.2" y2="329.9" stroke="#000" stroke-width="2.1" stroke-linecap="butt"/>
<line x1="216" y1="344.3" x2="237.2" y2="344.3" stroke="#000" stroke-width="2.2" stroke-linecap="butt" stroke-dasharray="5.6 2.6"/>
<text transform="translate(241.42 335) scale(1.050 1)" font-size="12.9" font-weight="normal" font-style="normal" fill="#000">Front</text>
<text transform="translate(241.44 349.8) scale(1.030 1)" font-size="12.9" font-weight="normal" font-style="normal" fill="#000">Back</text>
<path d="M331.5 481.4 C331.78 481.15 330.32 482.08 333.2 479.9 C336.08 477.72 343.47 472.38 348.8 468.3 C354.13 464.22 360.88 458.68 365.2 455.4 C369.52 452.12 371.97 450.83 374.7 448.6 C377.43 446.37 379.15 444.38 381.6 442 C384.05 439.62 386.8 437 389.4 434.3 C392 431.6 394.75 428.65 397.2 425.8 C399.65 422.95 402.08 419.9 404.1 417.2 C406.12 414.5 407.42 412.37 409.3 409.6 C411.18 406.83 413.7 403.2 415.4 400.6 C417.1 398 417.33 396.33 419.5 394 C421.67 391.67 424.48 389.1 428.4 386.6 C432.32 384.1 437.75 381.5 443 379 C448.25 376.5 453.45 374.23 459.9 371.6 C466.35 368.97 474.83 365.65 481.7 363.2 C488.57 360.75 496.75 358.3 501.1 356.9 C505.45 355.5 506.68 355.15 507.8 354.8" stroke="#c00000" stroke-width="2.2" fill="none" stroke-linecap="butt" stroke-linejoin="miter" stroke-dasharray="4.2 6.0"/>
<path d="M331.5 369 C332.65 367.98 336.25 364.7 338.4 362.9 C340.55 361.1 341.8 359.95 344.4 358.2 C347 356.45 350.97 353.9 354 352.4 C357.03 350.9 359.43 350.3 362.6 349.2 C365.77 348.1 369.53 347 373 345.8 C376.47 344.6 379.37 343.33 383.4 342 C387.43 340.67 393.17 339.02 397.2 337.8 C401.23 336.58 404.72 335.45 407.6 334.7 C410.48 333.95 412.2 333.68 414.5 333.3 C416.8 332.92 417.98 332.77 421.4 332.4 C424.82 332.03 429.92 331.51 435 331.07 C440.08 330.63 446.07 330.12 451.9 329.76 C457.73 329.4 463.65 329.18 470 328.94 C476.35 328.7 484.02 328.5 490 328.31 C495.98 328.12 502.93 327.89 505.9 327.81 C508.87 327.73 507.48 327.8 507.8 327.8 L510.0 499.0" stroke="#0000ff" stroke-width="2" fill="none" stroke-linecap="butt" stroke-linejoin="miter"/>
<path d="M331.5 371 C332.65 369.92 336.25 366.38 338.4 364.5 C340.55 362.62 341.8 361.53 344.4 359.7 C347 357.87 350.97 355.12 354 353.5 C357.03 351.88 359.43 351.15 362.6 350 C365.77 348.85 369.53 347.82 373 346.6 C376.47 345.38 379.37 344 383.4 342.66 C387.43 341.33 393.17 339.72 397.2 338.59 C401.23 337.46 404.72 336.49 407.6 335.87 C410.48 335.25 412.2 335.02 414.5 334.89 C416.8 334.76 418.63 335.02 421.4 335.1 C424.17 335.19 427 335.15 431.1 335.4 C435.2 335.65 440.8 336.15 446 336.6 C451.2 337.05 457.47 337.53 462.3 338.1 C467.13 338.67 470.85 339.3 475 340 C479.15 340.7 483.53 341.63 487.2 342.3 C490.87 342.97 493.88 343.5 497 344 C500.12 344.5 504.1 345.05 505.9 345.3 C507.7 345.55 507.48 345.47 507.8 345.5 L510.0 499.0" stroke="#c00000" stroke-width="2" fill="none" stroke-linecap="butt" stroke-linejoin="miter"/>
<path d="M331.7 327.4 L507.8 327.4 L510.0 499.0" stroke="#0000ff" stroke-width="2.2" fill="none" stroke-linecap="butt" stroke-linejoin="miter" stroke-dasharray="4.2 6.0"/>
<rect x="331.7" y="317.4" width="238.3" height="182.2" fill="none" stroke="#000" stroke-width="2.1"/>
<line x1="510" y1="498.9" x2="569.2" y2="498.9" stroke="#c00000" stroke-width="2" stroke-linecap="butt"/>
<line x1="510" y1="498.9" x2="569.2" y2="498.9" stroke="#0000ff" stroke-width="2" stroke-linecap="butt" stroke-dasharray="4.2 6.0"/>
<line x1="331.7" y1="464.8" x2="335.5" y2="464.8" stroke="#000" stroke-width="1.5" stroke-linecap="butt"/>
<line x1="331.7" y1="430.3" x2="335.5" y2="430.3" stroke="#000" stroke-width="1.5" stroke-linecap="butt"/>
<line x1="331.7" y1="395.8" x2="335.5" y2="395.8" stroke="#000" stroke-width="1.5" stroke-linecap="butt"/>
<line x1="331.7" y1="361.3" x2="335.5" y2="361.3" stroke="#000" stroke-width="1.5" stroke-linecap="butt"/>
<line x1="331.7" y1="326.8" x2="335.5" y2="326.8" stroke="#000" stroke-width="1.5" stroke-linecap="butt"/>
<line x1="331.7" y1="482.05" x2="333.7" y2="482.05" stroke="#000" stroke-width="1.5" stroke-linecap="butt"/>
<line x1="331.7" y1="447.55" x2="333.7" y2="447.55" stroke="#000" stroke-width="1.5" stroke-linecap="butt"/>
<line x1="331.7" y1="413.05" x2="333.7" y2="413.05" stroke="#000" stroke-width="1.5" stroke-linecap="butt"/>
<line x1="331.7" y1="378.55" x2="333.7" y2="378.55" stroke="#000" stroke-width="1.5" stroke-linecap="butt"/>
<line x1="331.7" y1="344.05" x2="333.7" y2="344.05" stroke="#000" stroke-width="1.5" stroke-linecap="butt"/>
<line x1="358.03" y1="499.6" x2="358.03" y2="495.8" stroke="#000" stroke-width="1.5" stroke-linecap="butt"/>
<line x1="411.1" y1="499.6" x2="411.1" y2="495.8" stroke="#000" stroke-width="1.5" stroke-linecap="butt"/>
<line x1="464.16" y1="499.6" x2="464.16" y2="495.8" stroke="#000" stroke-width="1.5" stroke-linecap="butt"/>
<line x1="517.23" y1="499.6" x2="517.23" y2="495.8" stroke="#000" stroke-width="1.5" stroke-linecap="butt"/>
<line x1="384.57" y1="499.6" x2="384.57" y2="497.6" stroke="#000" stroke-width="1.5" stroke-linecap="butt"/>
<line x1="437.63" y1="499.6" x2="437.63" y2="497.6" stroke="#000" stroke-width="1.5" stroke-linecap="butt"/>
<line x1="490.7" y1="499.6" x2="490.7" y2="497.6" stroke="#000" stroke-width="1.5" stroke-linecap="butt"/>
<line x1="543.76" y1="499.6" x2="543.76" y2="497.6" stroke="#000" stroke-width="1.5" stroke-linecap="butt"/>
<text x="313" y="470.1" font-size="12" font-weight="bold" font-style="normal" fill="#000">0.2</text>
<text x="312.58" y="435.6" font-size="12" font-weight="bold" font-style="normal" fill="#000">0.4</text>
<text x="312.94" y="401.1" font-size="12" font-weight="bold" font-style="normal" fill="#000">0.6</text>
<text x="312.88" y="366.6" font-size="12" font-weight="bold" font-style="normal" fill="#000">0.8</text>
<text x="313" y="332.1" font-size="12" font-weight="bold" font-style="normal" fill="#000">1.0</text>
<text x="318.67" y="502.9" font-size="12" font-weight="bold" font-style="normal" fill="#000">0</text>
<text x="348.52" y="514" font-size="11.6" font-weight="bold" font-style="normal" fill="#000">400</text>
<text x="401.47" y="514" font-size="11.6" font-weight="bold" font-style="normal" fill="#000">600</text>
<text x="454.57" y="514" font-size="11.6" font-weight="bold" font-style="normal" fill="#000">800</text>
<text x="502.28" y="514" font-size="11.6" font-weight="bold" font-style="normal" fill="#000">1000</text>
<text x="552.06" y="514" font-size="12.3" font-weight="bold" font-style="normal" fill="#000">1200</text>
<text transform="translate(384.8 535.9) scale(1.014 1)" font-size="14.7" font-weight="bold" font-style="normal" fill="#000">Wavelength [nm]</text>
<text transform="translate(295.27 305) scale(0.975 1)" font-size="12.5" font-weight="normal" font-style="normal" fill="#000">(d)</text>
<text transform="rotate(-90 0 0) translate(-411.19 307) scale(1.009 1)" font-size="14.6" font-weight="bold" font-style="italic" fill="#000">IQE</text>
<text transform="translate(378.2 359.8) scale(0.963 1)" font-size="13.8" font-weight="bold" font-style="normal" fill="#0000ff">With a-SiC</text>
<text transform="translate(408.5 433.7) scale(0.961 1)" font-size="13.8" font-weight="bold" font-style="normal" fill="#c00000">Without a-SiC</text>
<line x1="512.9" y1="330.7" x2="529.2" y2="330.7" stroke="#000" stroke-width="2.1" stroke-linecap="butt"/>
<line x1="512.9" y1="344.8" x2="529" y2="344.8" stroke="#000" stroke-width="2.2" stroke-linecap="butt" stroke-dasharray="6.2 2.4"/>
<text transform="translate(534.13 335.8) scale(1.020 1)" font-size="13.1" font-weight="normal" font-style="normal" fill="#000">Front</text>
<text x="534.16" y="350.4" font-size="13.1" font-weight="normal" font-style="normal" fill="#000">Back</text>
<text x="515.9" y="367.5" font-size="12.9" font-weight="bold" font-style="italic" fill="#000">V</text>
<text transform="translate(527.47 367.5) scale(1.035 1)" font-size="12.9" font-weight="bold" font-style="normal" fill="#000">= 0 V</text>
<text transform="translate(527.39 465.8) scale(1.011 1)" font-size="15.5" font-weight="bold" font-style="italic" fill="#000">E</text>
<text x="537.39" y="469.2" font-size="10.2" font-weight="bold" font-style="normal" fill="#000">g</text>
<line x1="529.3" y1="470.8" x2="516.5" y2="489" stroke="#000" stroke-width="3.2" stroke-linecap="butt"/>
<path d="M510.6 496.8 L512.4 485.2 L521.6 491.4 Z" fill="#000"/>
<text transform="rotate(-90)" x="-496.3" y="12.2" font-size="14.5" font-weight="bold" textLength="181" lengthAdjust="spacingAndGlyphs">Current density [mA cm<tspan dy="-4.6" font-size="9">-2</tspan><tspan dy="4.6">]</tspan></text>
</svg>
</body></html>
